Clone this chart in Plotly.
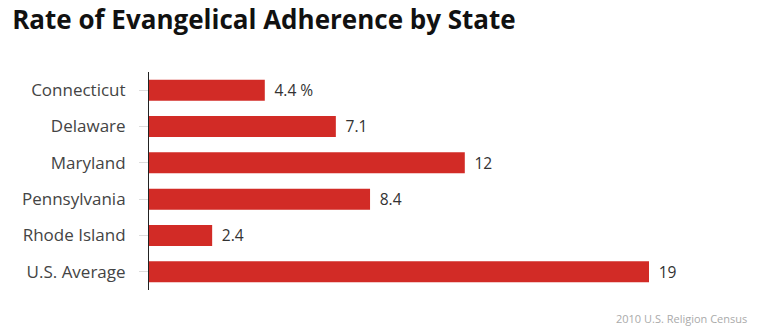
import plotly.graph_objects as go

states = ["Connecticut", "Delaware", "Maryland", "Pennsylvania", "Rhode Island", "U.S. Average"]
rates = [4.4, 7.1, 12, 8.4, 2.4, 19]
labels = ["4.4 %", "7.1", "12", "8.4", "2.4", "19"]

pad = "\u00a0\u2009"
fig = go.Figure(go.Bar(
    x=rates, y=states, orientation="h",
    marker=dict(color="#d22b26", line=dict(width=0)),
    text=[pad + s for s in labels], textposition="outside", cliponaxis=False,
    textfont=dict(family="Open Sans", size=17, color="#333333"),
    width=0.58,
))

fig.update_layout(
    width=760, height=329,
    margin=dict(l=149, r=11, t=72, b=39),
    paper_bgcolor="white", plot_bgcolor="white",
    showlegend=False,
    title=dict(text="<b>Rate of Evangelical Adherence by State</b>",
               x=0.016, xanchor="left", y=0.94, yanchor="middle",
               font=dict(family="Open Sans", size=26, color="#111111")),
    xaxis=dict(range=[0, 22.8], visible=False, fixedrange=True),
    yaxis=dict(autorange="reversed", showline=True, linecolor="#222222", linewidth=1,
               ticks="outside", ticklen=9, tickcolor="#dddddd", tickwidth=1,
               ticklabelstandoff=10,
               tickfont=dict(family="Open Sans", size=17, color="#444444"),
               showgrid=False, zeroline=False),
    annotations=[dict(text="2010 U.S. Religion Census", xref="paper", yref="paper",
                      x=1.0, y=-0.13, xanchor="right", yanchor="middle", showarrow=False,
                      font=dict(family="Open Sans", size=11, color="#aaaaaa"))],
)

fig.write_html("out.html")
